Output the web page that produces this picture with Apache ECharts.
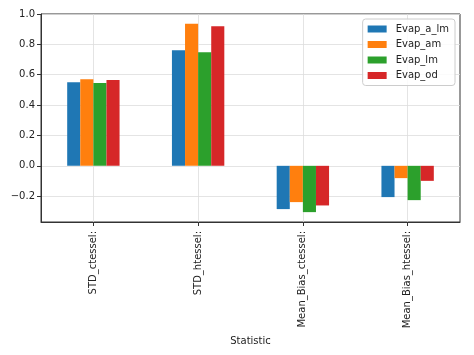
<!DOCTYPE html>
<html><head><meta charset="utf-8">
<script src="https://cdn.jsdelivr.net/npm/echarts@6/dist/echarts.min.js"></script>
<style>html,body{margin:0;padding:0;background:#fff}#c{width:474px;height:355px}</style>
</head><body><div id="c"></div>
<script>
const categories = ['STD_ctessel:', 'STD_htessel:', 'Mean_Bias_ctessel:', 'Mean_Bias_htessel:'];
const seriesNames = ['Evap_a_lm', 'Evap_am', 'Evap_lm', 'Evap_od'];
const evapALm = [0.550, 0.761, -0.285, -0.206];
const evapAm  = [0.570, 0.936, -0.239, -0.081];
const evapLm  = [0.545, 0.748, -0.305, -0.226];
const evapOd  = [0.566, 0.919, -0.261, -0.099];
const yTicks = [-0.2, 0.0, 0.2, 0.4, 0.6, 0.8, 1.0];
const colors = ['#1f77b4', '#ff7f0e', '#2ca02c', '#d62728'];
const values = [evapALm, evapAm, evapLm, evapOd];

const font = 'DejaVu Sans';
const chart = echarts.init(document.getElementById('c'), null, {renderer: 'canvas'});
chart.setOption({
  animation: false,
  textStyle: {fontFamily: font},
  grid: {left: 41, top: 14, right: 14, bottom: 133, show: true, borderColor: '#333', borderWidth: 1, backgroundColor: 'transparent'},
  legend: {
    orient: 'vertical', right: 19, top: 19,
    itemWidth: 19, itemHeight: 7, itemGap: 3.5,
    padding: [4, 6, 4, 5],
    backgroundColor: 'rgba(255,255,255,0.85)', borderColor: '#cccccc', borderWidth: 1, borderRadius: 3,
    textStyle: {fontFamily: font, fontSize: 10, color: '#222', lineHeight: 12, padding: [0, 0, 0, 4]},
    icon: 'rect',
    data: seriesNames
  },
  xAxis: {
    type: 'category', data: categories, boundaryGap: true,
    name: 'Statistic', nameLocation: 'middle', nameGap: 110,
    nameTextStyle: {fontFamily: font, fontSize: 10, color: '#222'},
    axisLine: {show: true, onZero: false, lineStyle: {color: '#333', width: 1}},
    axisTick: {show: true, alignWithLabel: true, length: 4, lineStyle: {color: '#333'}},
    axisLabel: {rotate: 90, margin: 9, fontFamily: font, fontSize: 10, color: '#222', interval: 0},
    splitLine: {show: true, alignWithLabel: true, lineStyle: {color: '#dddddd', width: 0.8}}
  },
  yAxis: {
    type: 'value', min: -0.37, max: 1.0, minInterval: 0.2, maxInterval: 0.2, splitNumber: 7,
    axisLine: {show: true, lineStyle: {color: '#333', width: 1}},
    axisTick: {show: true, length: 4, lineStyle: {color: '#333'}, customValues: yTicks},
    axisLabel: {customValues: yTicks, fontFamily: font, fontSize: 10, color: '#222', margin: 6,
      formatter: v => (v < -1e-9 ? '\u2212' : '') + Math.abs(v).toFixed(1)},
    splitLine: {show: true, lineStyle: {color: '#dddddd', width: 0.8}}
  },
  series: seriesNames.map((n, i) => ({
    name: n, type: 'bar', data: values[i], itemStyle: {color: colors[i]},
    barGap: '0%', barCategoryGap: '50%'
  }))
});
</script></body></html>
